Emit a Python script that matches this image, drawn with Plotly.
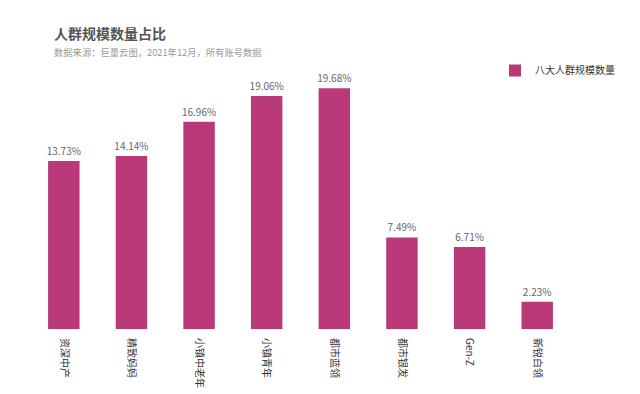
import plotly.graph_objects as go

categories = ["资深中产", "精致妈妈", "小镇中老年", "小镇青年", "都市蓝领", "都市银发", "Gen-Z", "新锐白领"]
values = [13.73, 14.14, 16.96, 19.06, 19.68, 7.49, 6.71, 2.23]
series_name = "八大人群规模数量"

font_family = "PingFang SC, Noto Sans CJK SC, Noto Sans, sans-serif"
color = "#BA3979"

L, R, T, B = 30, 69, 60, 65
W, H = 640, 394
plot_w = W - L - R
plot_h = H - T - B

def px_x(px):
    return (px - L) / plot_w

def px_y(py):
    return 1 + (T - py) / plot_h

fig = go.Figure()
fig.add_trace(go.Bar(
    x=categories, y=values, name=series_name,
    marker=dict(color=color, line=dict(width=0)),
    text=[f"{v:.2f}%" for v in values],
    textposition="outside",
    constraintext="none",
    textfont=dict(size=10, color="#666666"),
    cliponaxis=False,
))

fig.update_layout(
    width=W, height=H,
    margin=dict(l=L, r=R, t=T, b=B, autoexpand=False),
    paper_bgcolor="white", plot_bgcolor="white",
    font=dict(family=font_family, color="#333333"),
    bargap=0.535,
    showlegend=True,
    legend=dict(x=px_x(495), xanchor="left", y=px_y(56), yanchor="top",
                font=dict(size=10, color="#333333"),
                itemwidth=30, bgcolor="rgba(0,0,0,0)"),
    xaxis=dict(tickangle=90, tickfont=dict(size=10, color="#333333"),
               showline=False, showgrid=False, ticks="outside", ticklen=6,
               tickcolor="rgba(0,0,0,0)", fixedrange=True),
    yaxis=dict(range=[0, 22], visible=False, showgrid=False, fixedrange=True),
    annotations=[
        dict(text="<b>人群规模数量占比</b>", x=px_x(52), y=px_y(33), xref="paper", yref="paper",
             xanchor="left", yanchor="middle", showarrow=False,
             font=dict(size=14, color="#555555")),
        dict(text="数据来源：巨量云图，2021年12月，所有账号数据", x=px_x(52), y=px_y(52),
             xref="paper", yref="paper",
             xanchor="left", yanchor="middle", showarrow=False,
             font=dict(size=9.3, color="#999999")),
    ],
)

fig.write_html("out.html", config={"displayModeBar": False},
               post_script="document.body.style.margin='0';document.body.style.overflow='hidden';")
